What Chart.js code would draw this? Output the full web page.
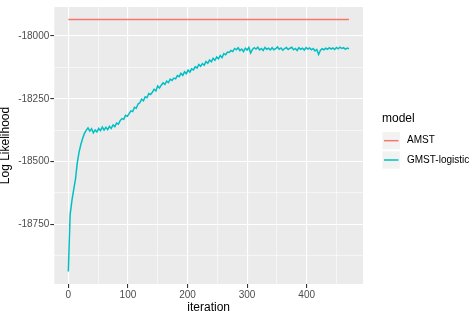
<!DOCTYPE html>
<html>
<head>
<meta charset="utf-8">
<script src="https://cdn.jsdelivr.net/npm/chart.js@4.4.1/dist/chart.umd.min.js"></script>
<style>
  html, body { margin: 0; padding: 0; background: #fff; }
  canvas { display: block; }
</style>
</head>
<body>
<canvas id="llChart" width="474" height="311"></canvas>
<script>
// iterations are every 3rd step, 0..471
const STEP = 3;
const gmstValues = [
  -18937, -18712, -18655, -18612, -18570, -18505, -18462, -18432, -18408, -18388,
  -18376, -18366, -18379, -18369, -18386, -18374, -18382, -18368, -18377, -18363,
  -18375, -18364, -18373, -18360, -18368, -18354, -18361, -18347, -18351, -18337,
  -18329, -18332, -18316, -18320, -18309, -18298, -18301, -18284, -18288, -18271,
  -18266, -18252, -18258, -18242, -18246, -18229, -18233, -18224, -18212, -18219,
  -18199, -18207, -18196, -18187, -18193, -18180, -18186, -18172, -18177, -18168,
  -18171, -18158, -18162, -18149, -18157, -18143, -18150, -18136, -18144, -18131,
  -18135, -18122, -18128, -18114, -18121, -18110, -18117, -18102, -18109, -18096,
  -18103, -18089, -18097, -18084, -18091, -18078, -18086, -18070, -18075, -18064,
  -18066, -18058, -18062, -18050, -18055, -18047, -18058, -18052, -18062, -18049,
  -18056, -18046, -18068, -18054, -18047, -18052, -18045, -18056, -18050, -18058,
  -18046, -18053, -18049, -18056, -18047, -18055, -18051, -18044, -18053, -18048,
  -18057, -18050, -18046, -18054, -18049, -18045, -18055, -18050, -18058, -18047,
  -18053, -18049, -18056, -18046, -18052, -18048, -18055, -18050, -18060, -18054,
  -18074, -18058, -18051, -18055, -18049, -18053, -18047, -18052, -18048, -18054,
  -18046, -18051, -18045, -18050, -18047, -18053, -18048, -18051
];
const gmstIter = gmstValues.map((v, i) => i * STEP);

const amstIter = [0, 471];
const amstValues = [-17935, -17935];

const xGrid = [0, 50, 100, 150, 200, 250, 300, 350, 400, 450];
const xMajor = [0, 100, 200, 300, 400];
const yGrid = [-18875, -18750, -18625, -18500, -18375, -18250, -18125, -18000];
const yMajor = [-18750, -18500, -18250, -18000];

const FONT = '"Liberation Sans", Arial, sans-serif';

// grey panel like ggplot
const panelBg = {
  id: 'panelBg',
  beforeDraw(chart) {
    const a = chart.chartArea;
    const ctx = chart.ctx;
    ctx.save();
    ctx.fillStyle = '#EBEBEB';
    ctx.fillRect(a.left, a.top, a.right - a.left, a.bottom - a.top);
    ctx.restore();
  }
};

const ggLegend = {
  id: 'ggLegend',
  afterDraw(chart) {
    const ctx = chart.ctx;
    ctx.save();
    ctx.fillStyle = '#000';
    ctx.font = '12px ' + FONT;
    ctx.textBaseline = 'alphabetic';
    ctx.fillText('model', 382, 121.5);
    chart.data.datasets.forEach((ds, i) => {
      const top = 132 + i * 19.3;
      const mid = top + 8.7;
      ctx.fillStyle = '#F2F2F2';
      ctx.fillRect(382.5, top, 17.4, 17.4);
      ctx.strokeStyle = ds.borderColor;
      ctx.lineWidth = 1.5;
      ctx.beginPath();
      ctx.moveTo(384, mid);
      ctx.lineTo(398.5, mid);
      ctx.stroke();
      ctx.fillStyle = '#000';
      ctx.font = '10px ' + FONT;
      ctx.textBaseline = 'middle';
      ctx.fillText(ds.label, 407, mid);
    });
    ctx.restore();
  }
};

const ctx = document.getElementById('llChart').getContext('2d');
new Chart(ctx, {
  type: 'line',
  data: {
    datasets: [
      {
        label: 'AMST',
        data: amstIter.map((x, i) => ({ x: x, y: amstValues[i] })),
        borderColor: '#F8766D',
        borderWidth: 1.5,
        pointRadius: 0,
        fill: false
      },
      {
        label: 'GMST-logistic',
        data: gmstIter.map((x, i) => ({ x: x, y: gmstValues[i] })),
        borderColor: '#00BFC4',
        borderWidth: 1.5,
        pointRadius: 0,
        fill: false,
        tension: 0
      }
    ]
  },
  options: {
    responsive: false,
    animation: false,
    devicePixelRatio: 1,
    layout: { padding: { left: 0, right: 111, top: 0, bottom: 0 } },
    plugins: {
      legend: { display: false },
      tooltip: { enabled: false }
    },
    scales: {
      x: {
        type: 'linear',
        min: -23.55,
        max: 494.55,
        afterBuildTicks: (scale) => { scale.ticks = xGrid.map(v => ({ value: v })); },
        afterFit: (scale) => { scale.height = 27; },
        border: { display: false },
        grid: {
          color: '#FFFFFF',
          lineWidth: (c) => (xMajor.includes(c.tick && c.tick.value) ? 1.1 : 0.55),
          tickColor: (c) => (xMajor.includes(c.tick && c.tick.value) ? '#333333' : 'rgba(0,0,0,0)'),
          tickWidth: 1.1,
          tickLength: 4
        },
        ticks: {
          autoSkip: false,
          maxRotation: 0,
          padding: 1,
          color: '#4D4D4D',
          font: { family: FONT, size: 10 },
          callback: (v) => (xMajor.includes(v) ? String(v) : '')
        },
        title: {
          display: true,
          text: 'iteration',
          color: '#000',
          font: { family: FONT, size: 12, lineHeight: 1 },
          padding: { top: 0, bottom: -3 }
        }
      },
      y: {
        type: 'linear',
        min: -18987.1,
        max: -17884.9,
        afterBuildTicks: (scale) => { scale.ticks = yGrid.map(v => ({ value: v })); },
        afterFit: (scale) => { scale.width = 54.3; },
        border: { display: false },
        grid: {
          color: '#FFFFFF',
          lineWidth: (c) => (yMajor.includes(c.tick && c.tick.value) ? 1.1 : 0.55),
          tickColor: (c) => (yMajor.includes(c.tick && c.tick.value) ? '#333333' : 'rgba(0,0,0,0)'),
          tickWidth: 1.1,
          tickLength: 4
        },
        ticks: {
          autoSkip: false,
          padding: 1,
          color: '#4D4D4D',
          font: { family: FONT, size: 10 },
          callback: (v) => (yMajor.includes(v) ? String(v) : '')
        },
        title: {
          display: true,
          text: 'Log Likelihood',
          color: '#000',
          font: { family: FONT, size: 12, lineHeight: 1 },
          padding: { top: 0, bottom: 0 }
        }
      }
    }
  },
  plugins: [panelBg, ggLegend]
});
</script>
</body>
</html>
